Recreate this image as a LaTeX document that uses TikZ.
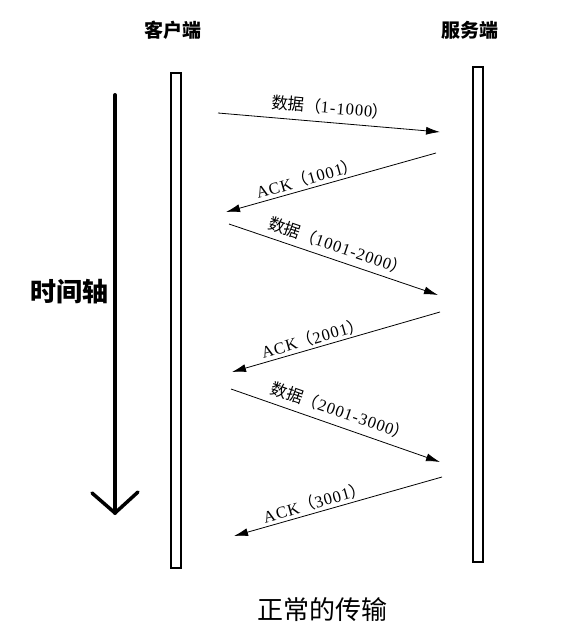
\documentclass[tikz,border=0pt]{standalone}
\usepackage{fontspec}
\setmainfont[LetterSpace=6]{Liberation Serif}
\newfontfamily\zhfont{Noto Sans CJK SC}
\usetikzlibrary{arrows.meta}
\newcommand{\zh}[1]{{\zhfont #1}}

\begin{document}
\begin{tikzpicture}[x=1pt, y=-1pt,
	bar/.style={draw, line width=1.1pt, minimum width=10pt, inner sep=0pt},
	msg/.style={line width=0.8pt, -{Latex[length=14pt, width=8pt]}},
	ack/.style={line width=0.8pt, {Latex[length=14pt, width=8pt]}-},
	lbl/.style={font=\fontsize{16.5}{18}\selectfont, sloped, above, inner sep=2pt},
	title/.style={font=\zhfont\bfseries\fontsize{19}{22}\selectfont}]
	\useasboundingbox (0,0) rectangle (579,642);
	\node [title] (cli-t) at (173,30) {客户端};
	\node [title] (srv-t) at (470,30) {服务端};
	\node [bar, minimum height=495pt] (cli) at (176,320.5) {};
	\node [bar, minimum height=495pt] (srv) at (478,314.5) {};
	% time axis
	\coordinate (t0) at (115,95);
	\coordinate (t1) at (115,513);
	\draw [line width=4pt, line cap=round] (t0) -- (t1);
	\draw [line width=3.5pt, line cap=round, line join=round] (t1) ++(-23,-20) -- (t1) -- ++(23,-21);
	\node [font=\zhfont\bfseries\fontsize{26}{28}\selectfont] (axis) at (69,292) {时间轴};
	% messages
	\coordinate (c1) at (218,113);  \coordinate (s1) at (440,132);
	\coordinate (c2) at (226,212);  \coordinate (s2) at (436,153);
	\coordinate (c3) at (229,224);  \coordinate (s3) at (438,295);
	\coordinate (c4) at (232,372);  \coordinate (s4) at (440,312);
	\coordinate (c5) at (231,389);  \coordinate (s5) at (440,462);
	\coordinate (c6) at (234,536);  \coordinate (s6) at (442,477);
	\draw [msg] (c1) -- (s1) node [lbl, pos=0.5, above=5pt] {\zh{数据（}1-1000\zh{）}};
	\draw [ack] (c2) -- (s2) node [lbl, pos=0.4] {ACK\zh{（}1001\zh{）}};
	\draw [msg] (c3) -- (s3) node [lbl, pos=0.5, above=4pt] {\zh{数据（}1001-2000\zh{）}};
	\draw [ack] (c4) -- (s4) node [lbl, pos=0.4] {ACK\zh{（}2001\zh{）}};
	\draw [msg] (c5) -- (s5) node [lbl, pos=0.5, above=5pt] {\zh{数据（}2001-3000\zh{）}};
	\draw [ack] (c6) -- (s6) node [lbl, pos=0.4] {ACK\zh{（}3001\zh{）}};
	\node [font=\zhfont\fontsize{26}{28}\selectfont] (cap) at (322,610) {正常的传输};
\end{tikzpicture}
\end{document}
